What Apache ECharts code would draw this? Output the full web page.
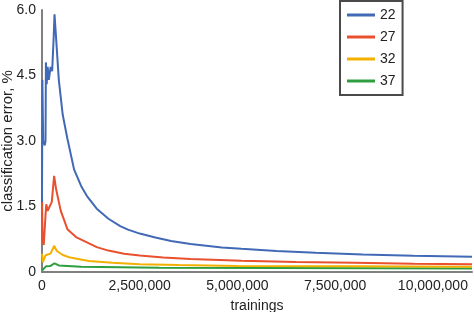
<!DOCTYPE html>
<html>
<head>
<meta charset="utf-8">
<script src="https://cdn.jsdelivr.net/npm/echarts@6/dist/echarts.min.js"></script>
<style>html,body{margin:0;padding:0;background:#fff}#c{width:474px;height:312px}</style>
</head>
<body>
<div id="c"></div>
<script>
var seriesNames = ['22', '27', '32', '37'];
var xTicks = [0, 2500000, 5000000, 7500000, 10000000];
var yTicks = [0, 1.5, 3.0, 4.5, 6.0];

var s22 = [[0,1.6],[10000,4.4],[30000,3.0],[70000,2.9],[90000,3.0],[100000,4.8],[120000,4.3],[145000,4.7],[175000,4.4],[220000,4.7],[260000,4.6],[295000,5.3],[320000,5.9],[350000,5.5],[430000,4.4],[530000,3.6],[650000,3.05],[820000,2.35],[1000000,1.97],[1150000,1.74],[1400000,1.45],[1700000,1.22],[2000000,1.05],[2200000,0.97],[2500000,0.88],[2900000,0.79],[3300000,0.71],[3800000,0.64],[4200000,0.60],[4600000,0.56],[5100000,0.53],[6000000,0.48],[7000000,0.44],[8200000,0.40],[9500000,0.37],[11000000,0.35]];
var s27 = [[0,1.8],[15000,0.7],[45000,0.62],[90000,1.3],[110000,1.55],[145000,1.4],[195000,1.5],[250000,1.6],[310000,2.2],[360000,1.9],[480000,1.4],[650000,0.98],[870000,0.8],[1150000,0.68],[1400000,0.57],[1700000,0.49],[2100000,0.42],[2500000,0.38],[3100000,0.33],[3800000,0.30],[5100000,0.26],[6500000,0.23],[8000000,0.21],[9500000,0.19],[11000000,0.18]];
var s32 = [[0,0.42],[20000,0.22],[90000,0.38],[145000,0.4],[220000,0.42],[310000,0.6],[380000,0.48],[530000,0.39],[720000,0.33],[1200000,0.25],[1800000,0.21],[2500000,0.18],[3500000,0.16],[5000000,0.14],[8000000,0.13],[11000000,0.12]];
var s37 = [[0,0.03],[45000,0.05],[100000,0.13],[220000,0.14],[320000,0.2],[430000,0.15],[1000000,0.12],[3000000,0.10],[6000000,0.09],[11000000,0.08]];

var colors = ['#4169B5', '#E8502E', '#F4B000', '#2E9E3E'];
var data = [s22, s27, s32, s37];

var chart = echarts.init(document.getElementById('c'));
chart.setOption({
  animation: false,
  color: colors,
  grid: {left: 42, right: 2, top: 10, bottom: 40, containLabel: false, outerBoundsMode: 'none'},
  legend: {
    orient: 'vertical', left: 340, top: 1,
    data: seriesNames,
    icon: 'rect', itemWidth: 28, itemHeight: 3, itemGap: 8,
    borderColor: '#4a4a4a', borderWidth: 2, borderRadius: 0,
    padding: [7, 7, 7, 7],
    textStyle: {fontFamily: 'Liberation Sans', fontSize: 14, color: '#222'}
  },
  xAxis: {
    type: 'value', min: 0, max: 11000000, interval: 2500000,
    name: 'trainings', nameLocation: 'middle', nameGap: 27, nameMoveOverlap: false,
    nameTextStyle: {fontFamily: 'Liberation Sans', fontSize: 14, color: '#222'},
    axisLine: {show: true, lineStyle: {color: '#808080', width: 2}},
    axisTick: {show: false}, splitLine: {show: false},
    axisLabel: {
      margin: 7, fontFamily: 'Liberation Sans', fontSize: 14, color: '#222', showMaxLabel: false,
      formatter: function (v) { return xTicks.indexOf(v) >= 0 ? v.toLocaleString('en-US') : ''; }
    }
  },
  yAxis: {
    type: 'value', min: 0, max: 6, interval: 1.5,
    name: 'classification error, %', nameLocation: 'middle', nameGap: 27, nameMoveOverlap: false,
    nameTextStyle: {fontFamily: 'Liberation Sans', fontSize: 15, color: '#222'},
    axisLine: {show: true, lineStyle: {color: '#808080', width: 2}},
    axisTick: {show: false}, splitLine: {show: false},
    axisLabel: {
      margin: 6, fontFamily: 'Liberation Sans', fontSize: 14, color: '#222',
      formatter: function (v) { return v === 0 ? '0' : v.toFixed(1); }
    }
  },
  series: data.map(function (d, i) {
    return {
      name: seriesNames[i], type: 'line', data: d, symbol: 'none',
      lineStyle: {width: 2, color: colors[i]}, z: 10 - i
    };
  })
});
</script>
</body>
</html>
